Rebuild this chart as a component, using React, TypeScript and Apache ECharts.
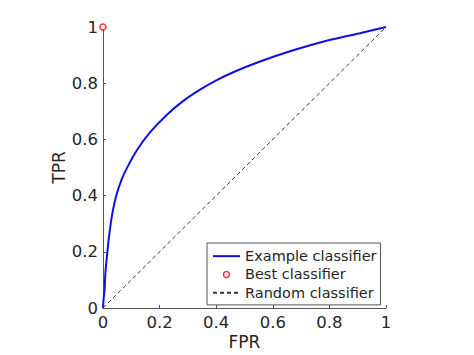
import React, { useEffect, useRef } from "react";
import * as echarts from "echarts";

const fpr = [0, 0.002, 0.006, 0.008, 0.012, 0.018, 0.025, 0.034, 0.047, 0.065, 0.088, 0.122, 0.166, 0.225, 0.284, 0.343, 0.402, 0.46, 0.555, 0.672, 0.79, 0.908, 1];
const tpr = [0, 0.03, 0.071, 0.118, 0.165, 0.224, 0.283, 0.342, 0.4, 0.455, 0.505, 0.565, 0.625, 0.687, 0.737, 0.777, 0.811, 0.839, 0.877, 0.917, 0.951, 0.978, 1];
const bestPoint = [[0, 1]];
const randomLine = [[0, 0], [1, 1]];
const ticks = [0, 0.2, 0.4, 0.6, 0.8, 1];

export default function App() {
  const ref = useRef<HTMLDivElement>(null);
  useEffect(() => {
    document.body.style.margin = "0";
    const chart = echarts.init(ref.current!, null, { renderer: "svg" });
    const font = "DejaVu Sans";
    const axisColor = "#555";
    const textColor = "#262626";
    const fmt = (v: number) => {
      const r = Math.round(v * 10) / 10;
      return ticks.includes(r) ? String(r) : "";
    };
    const hidden = { color: "rgba(0,0,0,0)", borderWidth: 0, opacity: 0 };
    chart.setOption({
      animation: false,
      backgroundColor: "#fff",
      grid: { left: 103, top: 27, width: 283, height: 283, containLabel: false },
      xAxis: {
        type: "value",
        min: 0,
        max: 1,
        interval: 0.2,
        name: "FPR",
        nameLocation: "middle",
        nameGap: 25,
        nameMoveOverlap: false,
        nameTextStyle: { fontFamily: font, fontSize: 17, color: textColor },
        axisLine: { show: true, lineStyle: { color: axisColor, width: 1 } },
        axisTick: { show: true, inside: true, length: 3, lineStyle: { color: axisColor } },
        axisLabel: { fontFamily: font, fontSize: 16.5, color: textColor, margin: 6, formatter: fmt },
        splitLine: { show: false },
      },
      yAxis: {
        type: "value",
        min: 0,
        max: 1,
        interval: 0.2,
        name: "TPR",
        nameLocation: "middle",
        nameGap: 36,
        nameMoveOverlap: false,
        nameTextStyle: { fontFamily: font, fontSize: 17, color: textColor },
        axisLine: { show: true, lineStyle: { color: axisColor, width: 1 } },
        axisTick: { show: true, inside: true, length: 3, lineStyle: { color: axisColor } },
        axisLabel: { fontFamily: font, fontSize: 16.5, color: textColor, margin: 5, formatter: fmt },
        splitLine: { show: false },
      },
      legend: {
        orient: "vertical",
        left: 207,
        top: 243,
        backgroundColor: "#fff",
        borderColor: "#555",
        borderWidth: 1,
        borderRadius: 0,
        padding: [4, 4, 3, 5],
        itemGap: 0,
        itemWidth: 27,
        itemHeight: 6,
        textStyle: { fontFamily: font, fontSize: 14.5, color: textColor, lineHeight: 18.3 },
        data: [
          { name: "Example classifier", itemStyle: hidden },
          { name: "Best classifier", icon: "circle", itemStyle: { color: "#fff", borderColor: "#e00", borderWidth: 1.5 } },
          { name: "Random classifier", itemStyle: hidden },
        ],
      },
      series: [
        {
          name: "Example classifier",
          type: "line",
          data: fpr.map((x, i) => [x, tpr[i]]),
          smooth: 0.35,
          showSymbol: false,
          symbol: "none",
          lineStyle: { color: "#1010e0", width: 2 },
          itemStyle: { color: "#1010e0" },
          z: 3,
        },
        {
          name: "Best classifier",
          type: "scatter",
          data: bestPoint,
          symbol: "circle",
          symbolSize: 6,
          itemStyle: { color: "#fff", borderColor: "#e00", borderWidth: 1.5 },
          clip: false,
          z: 4,
        },
        {
          name: "Random classifier",
          type: "line",
          data: randomLine,
          showSymbol: false,
          symbol: "none",
          lineStyle: { color: "#333", width: 1, type: [4, 3] },
          itemStyle: { color: "#333" },
          z: 2,
        },
      ],
    });
    return () => chart.dispose();
  }, []);
  return <div ref={ref} style={{ width: 474, height: 355 }} />;
}
